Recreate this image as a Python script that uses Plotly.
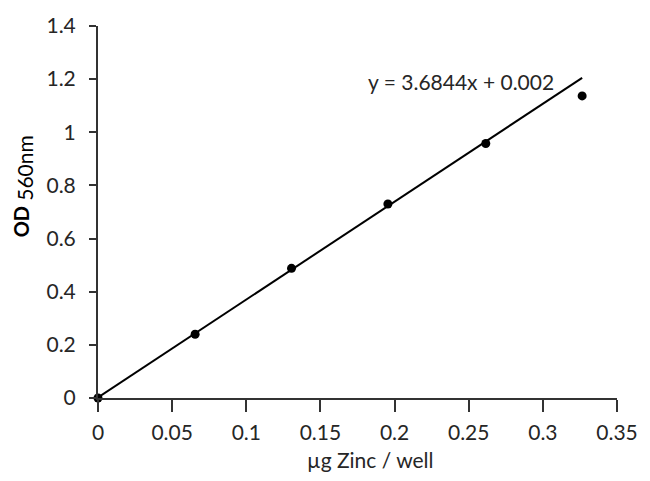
import plotly.graph_objects as go

zinc_ug = [0.0, 0.0655, 0.1305, 0.1955, 0.2615, 0.3265]
od_560 = [0.0, 0.240, 0.488, 0.730, 0.958, 1.137]
slope = 3.6844
intercept = 0.002
x_ticks = [0, 0.05, 0.1, 0.15, 0.2, 0.25, 0.3, 0.35]
x_tick_text = ["0", "0.05", "0.1", "0.15", "0.2", "0.25", "0.3", "0.35"]
y_ticks = [0, 0.2, 0.4, 0.6, 0.8, 1.0, 1.2, 1.4]
y_tick_text = ["0", "0.2", "0.4", "0.6", "0.8", "1", "1.2", "1.4"]

fit_x = [0.0, max(zinc_ug)]
fit_y = [slope * v + intercept for v in fit_x]

font_family = "Lato, 'Open Sans', sans-serif"
ink = "#262626"

fig = go.Figure()
fig.add_trace(go.Scatter(x=fit_x, y=fit_y, mode="lines",
                         line=dict(color="black", width=2), showlegend=False))
fig.add_trace(go.Scatter(x=zinc_ug, y=od_560, mode="markers",
                         marker=dict(color="black", size=9), showlegend=False,
                         cliponaxis=False))

axis_common = dict(showgrid=False, zeroline=False, showline=True, linecolor="#333333",
                   linewidth=2, ticks="outside", tickwidth=2, tickcolor="#333333",
                   tickfont=dict(family=font_family, size=21, color=ink))
fig.update_xaxes(range=[0, 0.35], tickvals=x_ticks, ticktext=x_tick_text,
                 ticklen=12, ticklabelstandoff=3, **axis_common)
fig.update_yaxes(range=[0, 1.4], tickvals=y_ticks, ticktext=y_tick_text,
                 ticklen=7, ticklabelstandoff=9, **axis_common)

fig.add_annotation(text="y = 3.6844x + 0.002", xref="paper", yref="paper",
                   x=(465 - 98) / 524, y=(398 - 81) / 373, xanchor="center", yanchor="middle",
                   showarrow=False, font=dict(family=font_family, size=21, color=ink))
fig.add_annotation(text="µg Zinc / well", xref="paper", yref="paper",
                   x=(373 - 98) / 524, y=(398 - 460) / 373, xanchor="center", yanchor="middle",
                   showarrow=False, font=dict(family=font_family, size=21, color=ink))
fig.add_annotation(text="<b>OD</b> <sub><span style='font-size:21px'>560nm</span></sub>",
                   xref="paper", yref="paper",
                   x=(22 - 98) / 524, y=(398 - 186) / 373, xanchor="center", yanchor="middle",
                   textangle=-90, showarrow=False,
                   font=dict(family=font_family, size=20, color="black"))

fig.update_layout(width=650, height=481, paper_bgcolor="white", plot_bgcolor="white",
                  margin=dict(l=98, r=28, t=25, b=83), showlegend=False)
fig.write_html("out.html")
